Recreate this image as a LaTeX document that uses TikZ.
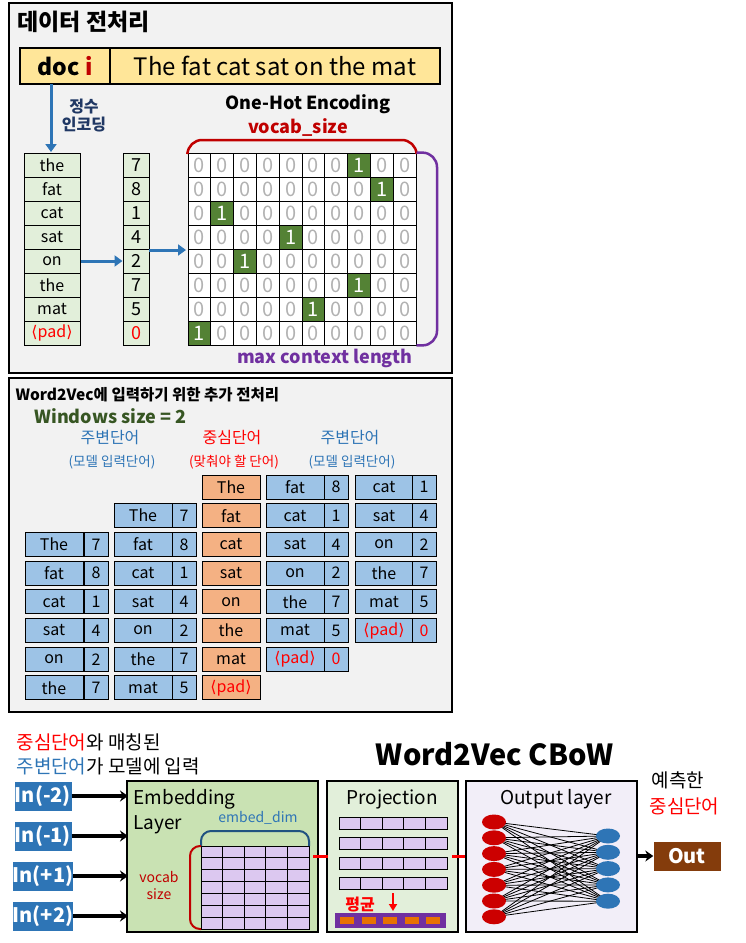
\documentclass[tikz,border=0pt]{standalone}
\usepackage{fontspec}
\setmainfont{Noto Sans CJK KR}
\newfontfamily\dvs{DejaVu Sans}
\newcommand{\padw}{{\dvs ⟨}pad{\dvs ⟩}}
\usetikzlibrary{arrows.meta}
\definecolor{pgray}{HTML}{F2F2F2}
\definecolor{docy}{HTML}{FFE699}
\definecolor{lgreen}{HTML}{E2EFDA}
\definecolor{dgreen}{HTML}{548235}
\definecolor{bblue}{HTML}{2E75B6}
\definecolor{cblue}{HTML}{9DC3E6}
\definecolor{corange}{HTML}{F4B183}
\definecolor{dred}{HTML}{C00000}
\definecolor{purp}{HTML}{7030A0}
\definecolor{lav}{HTML}{DCC8F0}
\definecolor{embg}{HTML}{C9E2B3}
\definecolor{outbg}{HTML}{F2EEF8}
\definecolor{brown}{HTML}{843C0C}
\definecolor{wsg}{HTML}{375623}
\definecolor{nblue}{HTML}{203864}
\tikzset{
 panel/.style={draw=black,line width=1.5pt,fill=pgray},
 wcell/.style={draw=black,line width=1pt,fill=lgreen,minimum width=56pt,minimum height=24pt,inner sep=0pt,font=\fontsize{16}{16}\selectfont},
 ncell/.style={draw=black,line width=1pt,fill=lgreen,minimum width=26pt,minimum height=24pt,inner sep=0pt,font=\fontsize{18}{18}\selectfont},
 gcell/.style={draw=black,line width=1pt,fill=white,minimum width=22.8pt,minimum height=24pt,inner sep=0pt,text=gray!60,font=\fontsize{20}{20}\selectfont},
 bw/.style={draw=black,line width=1pt,fill=cblue,minimum width=58pt,minimum height=24pt,inner sep=0pt,font=\fontsize{16}{16}\selectfont},
 bn/.style={draw=black,line width=1pt,fill=cblue,minimum width=24pt,minimum height=24pt,inner sep=0pt,font=\fontsize{16}{16}\selectfont},
 ow/.style={bw,fill=corange},
 inbox/.style={fill=bblue,text=white,minimum width=57pt,minimum height=29pt,inner sep=0pt,font=\bfseries\fontsize{20}{20}\selectfont},
 lav/.style={draw=black,line width=1pt,fill=lav},
 barrow/.style={-{Triangle[length=8pt,width=11pt]},line width=3pt,draw=bblue},
 karrow/.style={-{Stealth[length=8pt,width=11pt]},line width=3.5pt},
}
\begin{document}
\begin{tikzpicture}[x=1pt,y=-1pt]
\useasboundingbox (0,0) rectangle (745,943);
% ===== top panel
\draw[panel] (9,3) rectangle (452,373);
\node[anchor=west,font=\bfseries\fontsize{23}{24}\selectfont] (t1) at (14,22) {데이터 전처리};
\node[draw=black,line width=1.5pt,fill=docy,minimum width=90pt,minimum height=36pt,inner sep=0pt,font=\bfseries\fontsize{23}{24}\selectfont] (doc) at (65,66) {doc \textcolor{dred}{i}};
\node[draw=black,line width=1.5pt,fill=docy,minimum width=330pt,minimum height=36pt,inner sep=0pt,font=\fontsize{24}{24}\selectfont] (sent) at (275,66) {The fat cat sat on the mat};
\coordinate (a1) at (51,84);
\coordinate (a2) at (51,152);
\draw[barrow] (a1) -- (a2);
\node[align=center,text=nblue,font=\bfseries\fontsize{16}{18}\selectfont] (jc) at (84,116) {정수\\인코딩};
\node[font=\bfseries\fontsize{18}{18}\selectfont] (ohe) at (308,104) {One-Hot Encoding};
\node[text=dred,font=\bfseries\fontsize{18}{18}\selectfont] (vs) at (298,127) {vocab\_size};
\foreach \w/\n [count=\i from 0] in {the/7,fat/8,cat/1,sat/4,on/2,the/7,mat/5} {
  \node[wcell] (w\i) at (52,{165+24*\i}) {\w};
  \node[ncell] (n\i) at (136,{165+24*\i}) {\n};
}
\node[wcell,text=red] (w7) at (52,333) {\padw};
\node[ncell,text=red] (n7) at (136,333) {0};
\draw[barrow] (w4.east) -- (n4.west);
\coordinate (g0) at (186,250);
\draw[barrow] (149,250) -- (g0);
\foreach \r/\o in {0/7,1/8,2/1,3/4,4/2,5/7,6/5,7/0} {
  \foreach \c in {0,...,9} {
    \ifnum\c=\o
      \node[gcell,fill=dgreen,text=white] (c\r\c) at ({199.4+22.8*\c},{165+24*\r}) {1};
    \else
      \node[gcell] (c\r\c) at ({199.4+22.8*\c},{165+24*\r}) {0};
    \fi
  }
}
\draw[dred,line width=2.5pt,rounded corners=14pt] (c00.north west) -- (188,140) -- (416,140) -- (c09.north east);
\draw[purp,line width=2.5pt,rounded corners=14pt] (c09.north east) -- (437,153) -- (437,345) -- (c79.south east);
\node[text=purp,font=\bfseries\fontsize{18}{18}\selectfont] (mcl) at (325,358) {max context length};
% ===== middle panel
\draw[panel] (9,378) rectangle (452,712);
\node[anchor=west,font=\bfseries\fontsize{15.5}{16}\selectfont] (t2) at (12,395) {Word2Vec에 입력하기 위한 추가 전처리};
\node[anchor=west,text=wsg,font=\bfseries\fontsize{18}{18}\selectfont] (ws) at (31,416) {Windows size = 2};
\node[text=bblue,font=\fontsize{16}{17}\selectfont] (h1) at (110,438) {주변단어};
\node[text=bblue,font=\fontsize{13.5}{14}\selectfont] (h1b) at (112,462) {(모델 입력단어)};
\node[text=red,font=\fontsize{16}{17}\selectfont] (h2) at (232,438) {중심단어};
\node[text=red,font=\fontsize{13.5}{14}\selectfont] (h2b) at (234,462) {(맞춰야 할 단어)};
\node[text=bblue,font=\fontsize{16}{17}\selectfont] (h3) at (350,438) {주변단어};
\node[text=bblue,font=\fontsize{13.5}{14}\selectfont] (h3b) at (352,462) {(모델 입력단어)};
\foreach \w/\n [count=\i from 2] in {The/7,fat/8,cat/1,sat/4,on/2,the/7} {
  \node[bw] (aw\i) at (54,{487+28.7*\i}) {\w};
  \node[bn] (an\i) at (96,{487+28.7*\i}) {\n};
}
\foreach \w/\n [count=\i from 1] in {The/7,fat/8,cat/1,sat/4,on/2,the/7,mat/5} {
  \node[bw] (bw\i) at (143,{487+28.7*\i}) {\w};
  \node[bn] (bn\i) at (184,{487+28.7*\i}) {\n};
}
\foreach \w [count=\i from 0] in {The,fat,cat,sat,on,the,mat} {
  \node[ow] (ow\i) at (231,{487+28.7*\i}) {\w};
}
\node[ow,text=red] (ow7) at (231,{487+28.7*7}) {\padw};
\foreach \w/\n [count=\i from 0] in {fat/8,cat/1,sat/4,on/2,the/7,mat/5} {
  \node[bw] (dw\i) at (295,{487+28.7*\i}) {\w};
  \node[bn] (dn\i) at (336,{487+28.7*\i}) {\n};
}
\node[bw,text=red] (dw6) at (295,{487+28.7*6}) {\padw};
\node[bn,text=red] (dn6) at (336,{487+28.7*6}) {0};
\foreach \w/\n [count=\i from 0] in {cat/1,sat/4,on/2,the/7,mat/5} {
  \node[bw] (ew\i) at (384,{487+28.7*\i}) {\w};
  \node[bn] (en\i) at (424,{487+28.7*\i}) {\n};
}
\node[bw,text=red] (ew5) at (384,{487+28.7*5}) {\padw};
\node[bn,text=red] (en5) at (424,{487+28.7*5}) {0};
% ===== bottom
\node[anchor=west,font=\fontsize{19}{19}\selectfont] (bt1) at (13,742) {\textcolor{red}{중심단어}와 매칭된};
\node[anchor=west,font=\fontsize{19}{19}\selectfont] (bt2) at (13,766) {\textcolor{bblue}{주변단어}가 모델에 입력};
\node[font=\bfseries\fontsize{29}{30}\selectfont] (cbow) at (495,754) {Word2Vec CBoW};
\node[anchor=west,font=\fontsize{19}{19}\selectfont] (pr1) at (648,780) {예측한};
\node[anchor=west,text=red,font=\fontsize{19}{19}\selectfont] (pr2) at (646,806) {중심단어};
\draw[draw=black,line width=1.5pt,fill=embg] (127,781) rectangle (318,932);
\node[anchor=west,align=left,font=\fontsize{19}{25}\selectfont] (emb) at (130,812) {Embedding\\Layer};
\foreach \t/\y [count=\i] in {In(-2)/796,In(-1)/836,In(+1)/876,In(+2)/916} {
  \node[inbox] (in\i) at (43,\y) {\t};
  \coordinate (e\i) at (128,\y);
  \draw[karrow] (in\i.east) -- (e\i);
}
\foreach \r in {0,...,6} \foreach \c in {0,...,4}
  \draw[lav] ({201+21.6*\c},{846+11.9*\r}) rectangle ++(21.6,11.9);
\node[text=bblue,font=\fontsize{14}{15}\selectfont] (ed) at (258,818) {embed\_dim};
\draw[bblue!70!black,line width=2pt,rounded corners=10pt] (201,846) -- (201,831) -- (309,831) -- (309,846);
\draw[dred,line width=2pt,rounded corners=10pt] (201,846) -- (190,846) -- (190,929) -- (201,929);
\node[text=dred,align=center,font=\fontsize{14}{17}\selectfont] (vsz) at (159,886) {vocab\\size};
\draw[draw=black,line width=1.5pt,fill=lgreen] (327,781) rectangle (458,932);
\node[font=\fontsize{19}{19}\selectfont] (proj) at (392,799) {Projection};
\foreach \r in {0,...,3} \foreach \c in {0,...,4}
  \draw[lav] ({339+21.6*\c},{817+20*\r}) rectangle ++(21.6,12);
\node[text=red,font=\bfseries\fontsize{16}{16}\selectfont] (avg) at (360,905) {평균};
\draw[red,line width=1.8pt,-{Triangle[length=7pt,width=8pt]}] (393,893) -- (393,911);
\fill[purp] (335,913) rectangle (446,928);
\foreach \c in {0,...,4} \fill[orange!80!brown] ({340+21.6*\c},917) rectangle ++(14,7);
\draw[red,line width=3pt] (313,856) -- (328,856);
\draw[red,line width=3pt] (452,856) -- (467,856);
\draw[draw=black,line width=1.5pt,fill=outbg] (466,781) rectangle (637,932);
\node[font=\fontsize{19}{19}\selectfont] (ol) at (556,799) {Output layer};
\foreach \i in {0,...,6} \coordinate (r\i) at (494,{822+15.8*\i});
\foreach \j in {0,...,4} \coordinate (b\j) at (608,{836+16.3*\j});
\foreach \i in {0,...,6} \foreach \j in {0,...,4} \draw[line width=0.8pt] (r\i) -- (b\j);
\foreach \i in {0,...,6} \fill[red!80!black] (r\i) ellipse (12pt and 7.5pt);
\foreach \j in {0,...,4} \fill[bblue] (b\j) ellipse (12pt and 7.5pt);
\node[fill=brown,text=white,minimum width=67pt,minimum height=29pt,inner sep=0pt,font=\bfseries\fontsize{20}{20}\selectfont] (out) at (687,856) {Out};
\coordinate (ob) at (637,856);
\draw[karrow] (ob) -- (out.west);
\end{tikzpicture}
\end{document}
